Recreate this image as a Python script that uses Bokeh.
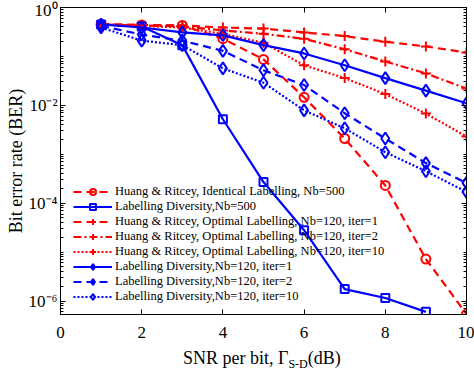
import math
from bokeh.plotting import figure
from bokeh.models import (Range1d, FixedTicker, LinearAxis, LogAxis, Title, Div,
                          CustomJSTickFormatter, Legend)
from bokeh.layouts import column
from bokeh.embed import file_html
from bokeh.resources import INLINE

# ---------------- data ----------------
snr = [1, 2, 3, 4, 5, 6, 7, 8, 9, 10]
snr_ld500 = [1, 2, 3, 4, 5, 6, 7, 8, 9]

ber_hr_ident_500 = [0.45, 0.44, 0.43, 0.23, 0.087, 0.0146, 2.1e-3, 2.3e-4, 7.2e-6, 5.4e-7]
ber_ld_500 = [0.45, 0.41, 0.17, 5.2e-3, 2.7e-4, 2.8e-5, 1.75e-6, 1.15e-6, 6.0e-7]
ber_hr_opt_it1 = [0.45, 0.44, 0.43, 0.39, 0.37, 0.31, 0.26, 0.20, 0.16, 0.12]
ber_hr_opt_it2 = [0.45, 0.43, 0.41, 0.34, 0.29, 0.23, 0.14, 0.079, 0.045, 0.022]
ber_hr_opt_it10 = [0.45, 0.42, 0.39, 0.29, 0.19, 0.066, 0.036, 0.017, 6.8e-3, 2.3e-3]
ber_ld_it1 = [0.45, 0.39, 0.31, 0.27, 0.17, 0.115, 0.066, 0.036, 0.020, 0.011]
ber_ld_it2 = [0.42, 0.28, 0.21, 0.13, 0.052, 0.026, 6.9e-3, 2.1e-3, 6.6e-4, 2.6e-4]
ber_ld_it10 = [0.39, 0.21, 0.17, 0.057, 0.029, 7.9e-3, 3.4e-3, 1.1e-3, 4.5e-4, 1.7e-4]

labels = [
    "Huang & Ritcey, Identical Labelling, Nb=500",
    "Labelling Diversity,Nb=500",
    "Huang & Ritcey, Optimal Labelling, Nb=120, iter=1",
    "Huang & Ritcey, Optimal Labelling, Nb=120, iter=2",
    "Huang & Ritcey, Optimal Labelling, Nb=120, iter=10",
    "Labelling Diversity,Nb=120, iter=1",
    "Labelling Diversity,Nb=120, iter=2",
    "Labelling Diversity,Nb=120, iter=10",
]
x_ticks = [0, 2, 4, 6, 8, 10]
y_major = [1e0, 1e-2, 1e-4, 1e-6]
y_title = "Bit error rate (BER)"
x_title_main = "SNR per bit, \u0393"
x_title_sub = "S-D"
x_title_end = "(dB)"

RED = "#ff0000"
BLUE = "#0000ff"
FONT = "Liberation Serif"

series = [
    (snr, ber_hr_ident_500, RED, "8 5", "circle", 9),
    (snr_ld500, ber_ld_500, BLUE, "solid", "square", 8),
    (snr, ber_hr_opt_it1, RED, "8 5", "cross", 10),
    (snr, ber_hr_opt_it2, RED, "8 3 2 3", "cross", 10),
    (snr, ber_hr_opt_it10, RED, "2 2", "cross", 10),
    (snr, ber_ld_it1, BLUE, "solid", "diamond", 12),
    (snr, ber_ld_it2, BLUE, "8 5", "diamond", 12),
    (snr, ber_ld_it10, BLUE, "2 2", "diamond", 12),
]

p = figure(width=474, height=346, output_backend="svg", toolbar_location=None,
           y_axis_type="log", x_range=Range1d(0, 10), y_range=Range1d(5.3e-7, 1.0),
           min_border_left=60, min_border_right=8, min_border_top=7,
           min_border_bottom=32)
p.background_fill_color = "white"
p.border_fill_color = "white"
p.outline_line_color = "black"
p.outline_line_width = 1
p.xgrid.visible = False
p.ygrid.visible = False

minor = []
for e in range(-7, 0):
    for k in range(2, 10):
        minor.append(k * 10.0 ** e)
    minor.append(10.0 ** e)
minor = [m for m in minor if m not in y_major]

sup_fmt = CustomJSTickFormatter(code="""
const e = Math.round(Math.log10(tick));
const m = {'0':'\u2070','1':'\u00b9','2':'\u00b2','3':'\u00b3','4':'\u2074','5':'\u2075','6':'\u2076','7':'\u2077','8':'\u2078','9':'\u2079','-':'\u207b'};
return '10' + String(e).split('').map(c => m[c]).join('');
""")
blank_fmt = CustomJSTickFormatter(code="return '';")

def style_axis(ax):
    ax.axis_line_color = "black"
    ax.axis_line_width = 1
    ax.major_tick_in = 5
    ax.major_tick_out = 0
    ax.minor_tick_in = 3
    ax.minor_tick_out = 0
    ax.major_tick_line_color = "black"
    ax.minor_tick_line_color = "black"
    ax.major_label_text_font = FONT
    ax.major_label_text_font_size = "17px"
    ax.major_label_text_color = "black"

xa = p.xaxis[0]
xa.ticker = FixedTicker(ticks=x_ticks)
style_axis(xa)
xa.minor_tick_in = 0
xa.major_label_standoff = 12

ya = p.yaxis[0]
ya.ticker = FixedTicker(ticks=y_major, minor_ticks=minor)
ya.formatter = sup_fmt
style_axis(ya)
ya.major_label_standoff = 3

top = LinearAxis(ticker=FixedTicker(ticks=x_ticks), formatter=blank_fmt)
style_axis(top)
top.minor_tick_in = 0
top.major_label_standoff = 0
p.add_layout(top, "above")

right = LogAxis(ticker=FixedTicker(ticks=y_major, minor_ticks=minor),
                formatter=blank_fmt)
style_axis(right)
right.major_label_standoff = 0
p.add_layout(right, "right")

p.add_layout(Title(text=y_title, align="center", text_font=FONT,
                   text_font_size="18px", text_font_style="normal",
                   text_color="black", standoff=0, offset=0), "left")

items = []
for (xs, ys, col, dash, marker, sz), lab in zip(series, labels):
    r1 = p.line(xs, ys, line_color=col, line_width=2.2, line_dash=dash)
    r2 = p.scatter(xs, ys, marker=marker, size=sz, line_color=col, line_width=2,
                   fill_alpha=0)
    items.append((lab, [r1, r2]))

legend = Legend(items=items, location=(13, 10))
legend.padding = 0
legend.margin = 0
legend.spacing = -1
legend.label_height = 15
legend.glyph_height = 15
legend.glyph_width = 39
legend.label_standoff = 3
legend.label_text_font = FONT
legend.label_text_font_size = "12.5px"
legend.label_text_color = "black"
legend.border_line_alpha = 0
legend.background_fill_alpha = 0
p.add_layout(legend)

xlabel_html = (
    '<div style="position:relative; left:183px; top:4px; white-space:nowrap; '
    'font-family:\'Liberation Serif\'; font-size:18px; color:black; line-height:16px;">'
    + x_title_main
    + '<span style="font-size:12px; line-height:12px; position:relative; top:4px;">'
    + x_title_sub + '</span>'
    + x_title_end + '</div>'
)
div = Div(text=xlabel_html, width=474, height=28, styles={"margin": "0", "padding": "0"})

layout = column(p, div, spacing=0)
open("out.html", "w").write(file_html(layout, INLINE))
